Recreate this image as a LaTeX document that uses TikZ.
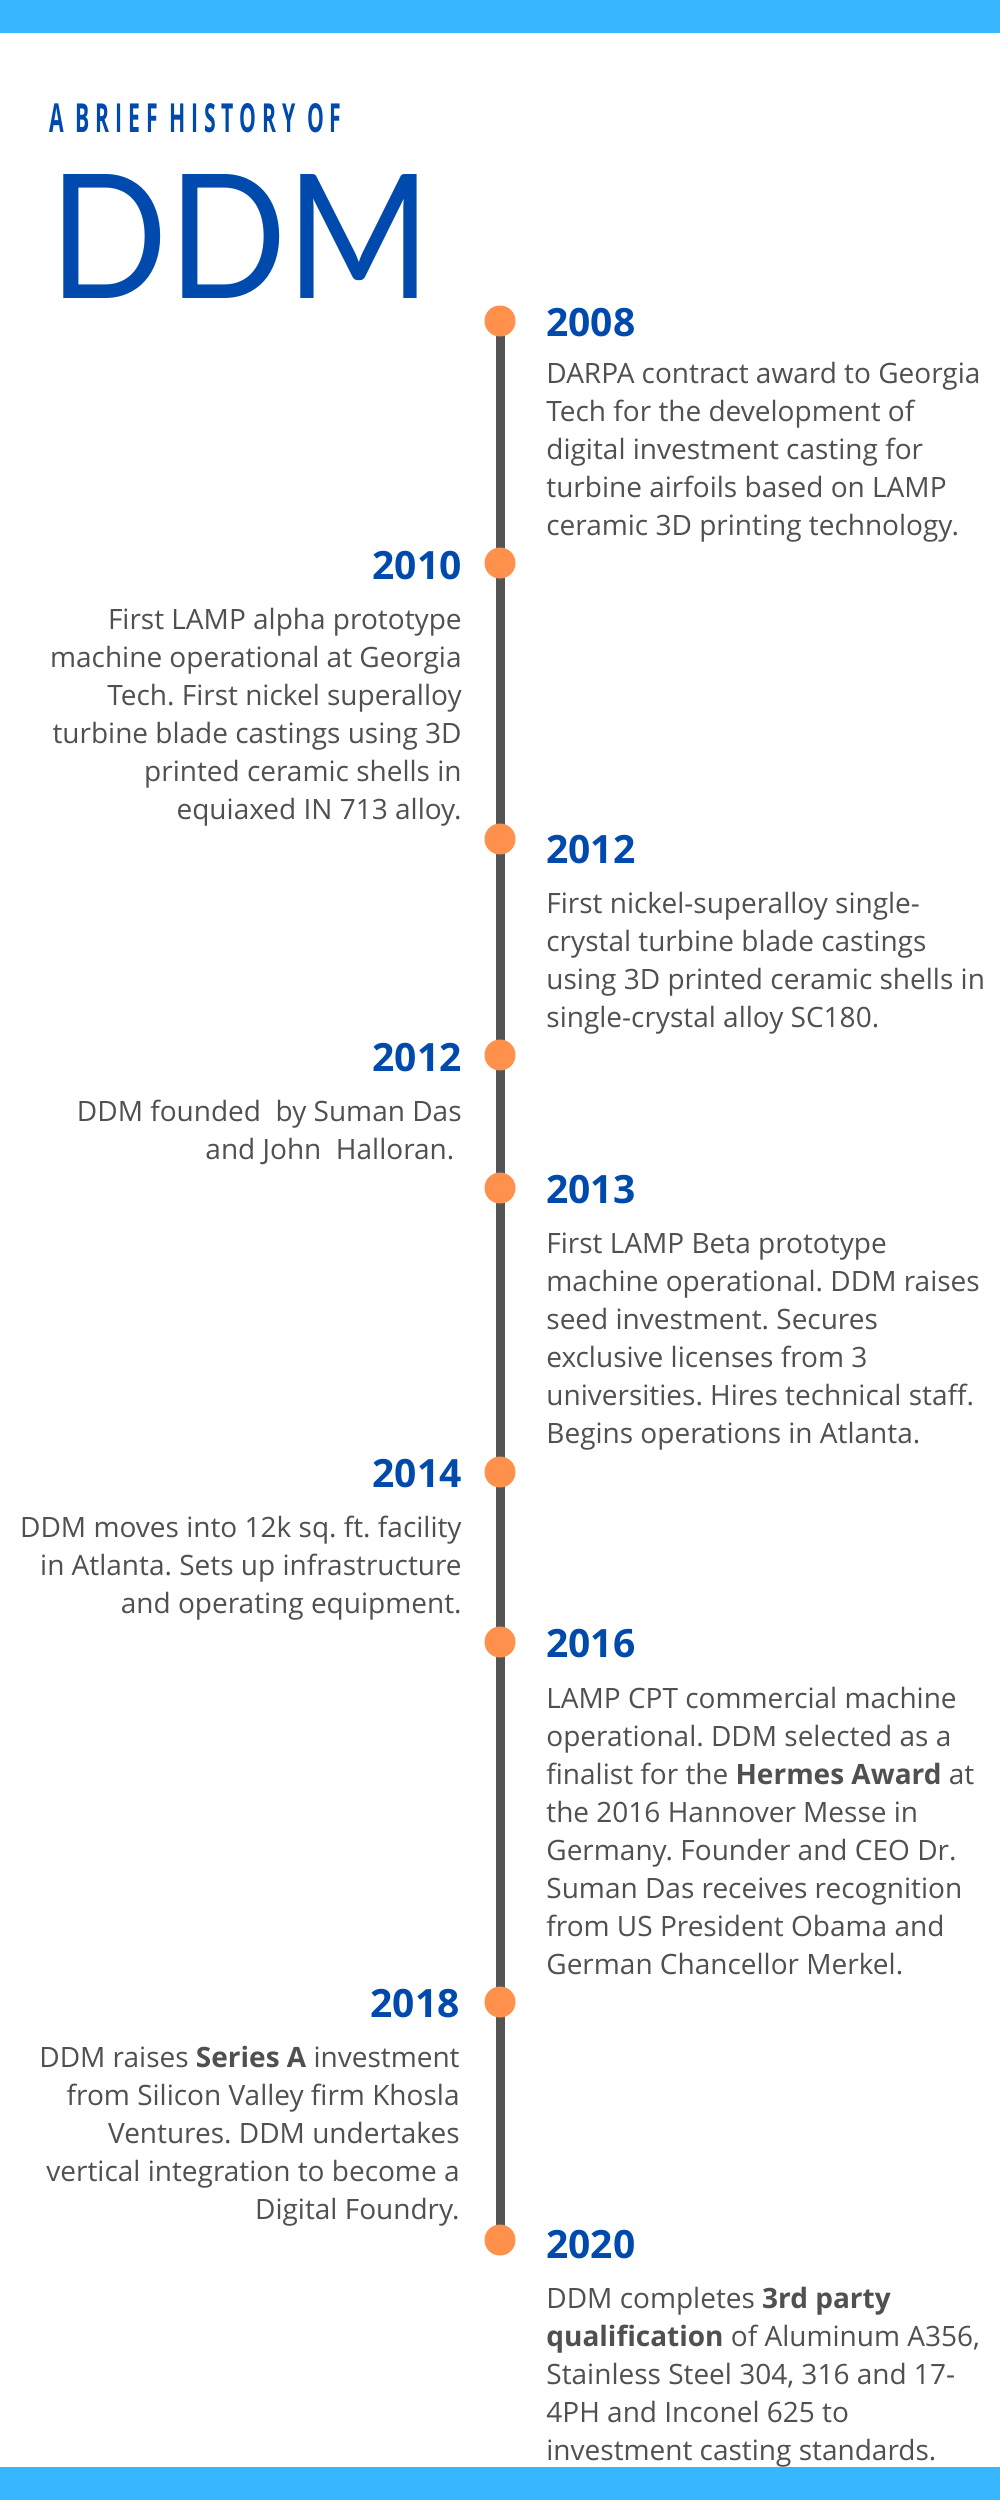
\documentclass[tikz,border=0pt]{standalone}
\usepackage{graphicx}
\usepackage{fontspec}
\setmainfont{Open Sans}
\newfontfamily\bigfont{Lato}
\newfontfamily\kickerfont[LetterSpace=28]{Open Sans}
\usetikzlibrary{backgrounds}
\definecolor{barblue}{RGB}{56,182,255}
\definecolor{ddmblue}{RGB}{0,74,173}
\definecolor{dotorange}{RGB}{255,145,77}
\definecolor{spinegray}{RGB}{84,84,84}
\definecolor{textgray}{RGB}{80,80,80}
\frenchspacing

\begin{document}
\begin{tikzpicture}[x=0.5pt,y=-0.5pt,
                dot/.style={circle,fill=dotorange,minimum size=15.5pt,inner sep=0pt},
                year/.style={inner sep=0pt,text=ddmblue,font=\fontsize{19.5}{23}\selectfont\bfseries},
                info/.style={inner sep=0pt,text=textgray,font=\fontsize{14}{19}\selectfont},
                ]
            \useasboundingbox (0,0) rectangle (1000,2500);

            \node[anchor=base west,inner sep=0pt,text=ddmblue] (kicker) at (49,132) {\resizebox{146pt}{14.5pt}{\kickerfont\bfseries A BRIEF HISTORY OF}};
            \node[anchor=base west,inner sep=0pt,text=ddmblue] (ddm) at (49,298) {\resizebox{191pt}{62pt}{\bigfont DDM}};

            \node[dot] (d2008) at (500,321) {};
            \node[dot] (d2010) at (500,563) {};
            \node[dot] (d2012a) at (500,839) {};
            \node[dot] (d2012b) at (500,1055) {};
            \node[dot] (d2013) at (500,1188) {};
            \node[dot] (d2014) at (500,1472) {};
            \node[dot] (d2016) at (500,1642) {};
            \node[dot] (d2018) at (500,2002) {};
            \node[dot] (d2020) at (500,2240) {};

            \begin{scope}[on background layer]
            \fill[white] (0,0) rectangle (1000,2500);
            \draw[spinegray,line width=4.5pt] (d2008.center) -- (d2020.center);
            \end{scope}

            % years sit on the dot line, texts hang from their last baseline
            \node[year,anchor=base west] (y2008) at (546,336) {2008};
            \node[info,anchor=base west,align=left] (t2008) at (546,535) {DARPA contract award to Georgia\\Tech for the development of\\digital investment casting for\\turbine airfoils based on LAMP\\ceramic 3D printing technology.};

            \node[year,anchor=base east] (y2010) at (462,579) {2010};
            \node[info,anchor=base east,align=right] (t2010) at (462,819) {First LAMP alpha prototype\\machine operational at Georgia\\Tech. First nickel superalloy\\turbine blade castings using 3D\\printed ceramic shells in\\equiaxed IN 713 alloy.};

            \node[year,anchor=base west] (y2012a) at (546,863) {2012};
            \node[info,anchor=base west,align=left] (t2012a) at (546,1027) {First nickel-superalloy single-\\crystal turbine blade castings\\using 3D printed ceramic shells in\\single-crystal alloy SC180.};

            \node[year,anchor=base east] (y2012b) at (462,1071) {2012};
            \node[info,anchor=base east,align=right] (t2012b) at (462,1159) {DDM founded\ \ by Suman Das\\and John\ \ Halloran.\ \ };

            \node[year,anchor=base west] (y2013) at (546,1203) {2013};
            \node[info,anchor=base west,align=left] (t2013) at (546,1443) {First LAMP Beta prototype\\machine operational. DDM raises\\seed investment. Secures\\exclusive licenses from 3\\universities. Hires technical staff.\\Begins operations in Atlanta.};

            \node[year,anchor=base east] (y2014) at (462,1487) {2014};
            \node[info,anchor=base east,align=right] (t2014) at (462,1613) {DDM moves into 12k sq. ft. facility\\in Atlanta. Sets up infrastructure\\and operating equipment.};

            \node[year,anchor=base west] (y2016) at (546,1657) {2016};
            \node[info,anchor=base west,align=left] (t2016) at (546,1974) {LAMP CPT commercial machine\\operational. DDM selected as a\\finalist for the \textbf{Hermes Award} at\\the 2016 Hannover Messe in\\Germany. Founder and CEO Dr.\\Suman Das receives recognition\\from US President Obama and\\German Chancellor Merkel.};

            \node[year,anchor=base east] (y2018) at (460,2017) {2018};
            \node[info,anchor=base east,align=right] (t2018) at (460,2219) {DDM raises \textbf{Series A} investment\\from Silicon Valley firm Khosla\\Ventures. DDM undertakes\\vertical integration to become a\\Digital Foundry.};

            \node[year,anchor=base west] (y2020) at (546,2258) {2020};
            \node[info,anchor=base west,align=left] (t2020) at (546,2460) {DDM completes \textbf{3rd party}\\\textbf{qualification} of Aluminum A356,\\Stainless Steel 304, 316 and 17-\\4PH and Inconel 625 to\\investment casting standards.};

            % bars top and bottom
            \fill[barblue] (0,0) rectangle (1000,33);
            \fill[barblue] (0,2467) rectangle (1000,2500);

            \end{tikzpicture}
\end{document}
